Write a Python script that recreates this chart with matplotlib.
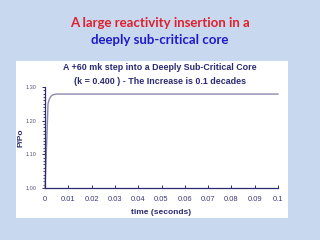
import matplotlib
matplotlib.use("Agg")
import matplotlib.pyplot as plt
from matplotlib.patches import Rectangle
from matplotlib.ticker import MultipleLocator

time_s = [0.0, 0.0008, 0.0013, 0.0018, 0.0025, 0.0034, 0.005, 0.1]
power = [1.0, 1.15, 1.25, 1.263, 1.272, 1.277, 1.279, 1.279]
xticks = [0, 0.01, 0.02, 0.03, 0.04, 0.05, 0.06, 0.07, 0.08, 0.09, 0.1]
xticklabels = ["0", "0.01", "0.02", "0.03", "0.04", "0.05", "0.06", "0.07", "0.08", "0.09", "0.1"]
yticks = [1.00, 1.10, 1.20, 1.30]
yticklabels = ["1.00", "1.10", "1.20", "1.30"]

bg = "#c8d8ee"
navy = "#2b2b72"
arial = "Liberation Sans"
fig = plt.figure(figsize=(3.2, 2.4), dpi=100)
fig.patch.set_facecolor(bg)

fig.patches.append(Rectangle((16/320, 1-218/240), (288-16)/320, (218-61)/240,
                             transform=fig.transFigure, facecolor="white", edgecolor="none", zorder=-5))

fig.text(0.5, 1-23/240, "A large reactivity insertion in a", color="#e0202e",
         fontsize=9.5, fontweight="bold", family="Lato", ha="center", va="center")
fig.text(0.5, 1-40/240, "deeply sub-critical core", color="#1c1cc8",
         fontsize=9.5, fontweight="bold", family="Lato", ha="center", va="center")

fig.text(0.5, 1-68/240, "A +60 mk step into a Deeply Sub-Critical Core", color=navy,
         fontsize=6.4, fontweight="bold", family=arial, ha="center", va="center")
fig.text(0.5, 1-82/240, "(k = 0.400 ) - The Increase is 0.1 decades", color=navy,
         fontsize=6.4, fontweight="bold", family=arial, ha="center", va="center")

ax = fig.add_axes([45/320, 1-188/240, (278-45)/320, (188-87)/240])
ax.set_facecolor("none")
ax.plot(time_s, power, color="#8a8aae", lw=1.0, clip_on=False)
ax.set_xlim(0, 0.1)
ax.set_ylim(1.0, 1.30)
for s in ["top", "right"]:
    ax.spines[s].set_visible(False)
for s in ["left", "bottom"]:
    ax.spines[s].set_color(navy)
    ax.spines[s].set_linewidth(0.9)
ax.set_xticks(xticks)
ax.set_xticklabels(xticklabels)
ax.set_yticks(yticks)
ax.set_yticklabels(yticklabels)
ax.yaxis.set_minor_locator(MultipleLocator(0.01))
ax.tick_params(axis="x", direction="in", length=2.5, width=0.7, color=navy,
               labelsize=5.4, labelcolor="#3a3a7a", pad=6)
ax.tick_params(axis="y", which="major", direction="out", length=2, width=0.7, color=navy,
               labelsize=4.0, labelcolor="#555577", pad=4)
ax.tick_params(axis="y", which="minor", direction="out", length=1.5, width=0.6, color=navy)
for lab in ax.get_xticklabels() + ax.get_yticklabels():
    lab.set_family(arial)
ax.set_xlabel("time (seconds)", fontsize=6.0, fontweight="bold", color=navy, labelpad=4, family=arial)
ax.set_ylabel("P/Po", fontsize=6.0, fontweight="bold", color=navy, labelpad=1, family=arial)

fig.savefig("out.png", dpi=100, facecolor=bg)
